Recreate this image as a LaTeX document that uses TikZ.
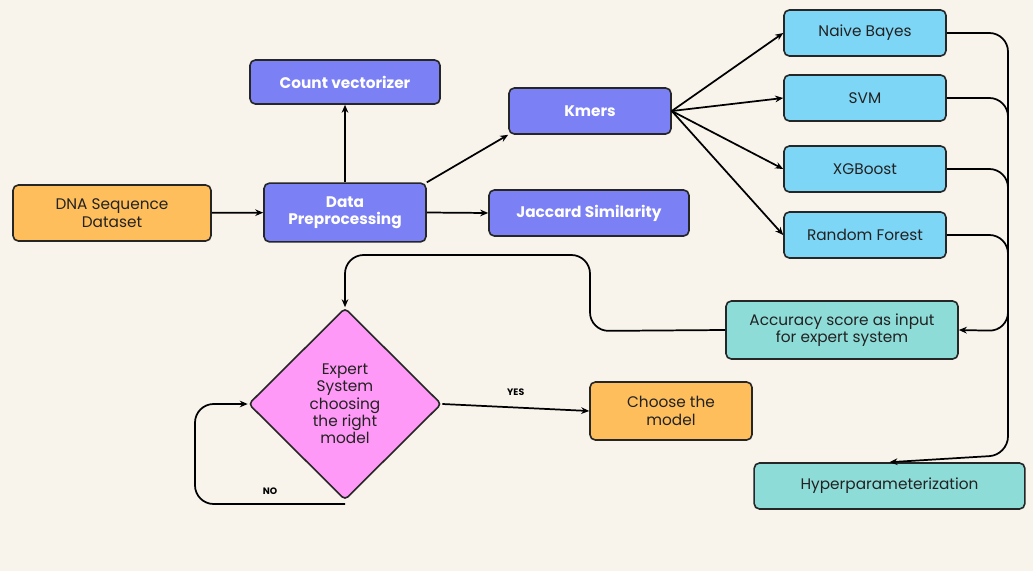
\documentclass[tikz,border=0pt]{standalone}
\usepackage{fontspec}
\setmainfont{Poppins}
\usetikzlibrary{shapes.geometric,arrows.meta}
\definecolor{bg}{HTML}{F8F4EC}
\definecolor{org}{HTML}{FFBE5C}
\definecolor{pur}{HTML}{7B80F4}
\definecolor{lb}{HTML}{7ED6F6}
\definecolor{teal}{HTML}{8EDCD8}
\definecolor{pink}{HTML}{FF99F7}
\definecolor{tx}{HTML}{222222}
\begin{document}
\begin{tikzpicture}[x=0.75pt,y=-0.75pt,
  box/.style={draw=black!85,line width=1.2pt,rounded corners=4pt,inner sep=0pt,align=center,font=\fontsize{11.5}{13}\selectfont,text=tx},
  pb/.style={box,fill=pur,text=white,font=\fontsize{11.5}{13}\selectfont\bfseries},
  ar/.style={-{Stealth[length=6pt,width=5pt]},line width=1.3pt},
  ln/.style={line width=1.3pt,rounded corners=14pt}]
\fill[bg] (0,0) rectangle (1033,571);
\useasboundingbox (0,0) rectangle (1033,571);
\newcommand{\bx}[6]{\node[#1,minimum width=#4*0.75pt,minimum height=#5*0.75pt] (#6) at (#2,#3) {};}
\node[box,fill=org,minimum width=148.5pt,minimum height=42pt] (dna) at (112,213) {DNA Sequence\\Dataset};
\node[pb,minimum width=121.5pt,minimum height=44pt] (dp) at (345,212.5) {Data\\Preprocessing};
\node[pb,minimum width=142.5pt,minimum height=33pt] (cv) at (345,82) {Count vectorizer};
\node[pb,minimum width=121.5pt,minimum height=34.5pt] (km) at (590,111) {Kmers};
\node[pb,minimum width=150pt,minimum height=34.5pt] (jac) at (589,213) {Jaccard Similarity};
\node[box,fill=lb,minimum width=121.5pt,minimum height=34.5pt] (nb) at (865,33) {Naive Bayes};
\node[box,fill=lb,minimum width=121.5pt,minimum height=34.5pt] (svm) at (865,98) {SVM};
\node[box,fill=lb,minimum width=121.5pt,minimum height=34.5pt] (xgb) at (865,169) {XGBoost};
\node[box,fill=lb,minimum width=121.5pt,minimum height=34.5pt] (rf) at (865,235) {Random Forest};
\node[box,fill=teal,minimum width=174pt,minimum height=43.5pt] (acc) at (842,330) {Accuracy score as input\\for expert system};
\node[box,fill=teal,minimum width=203pt,minimum height=34.5pt] (hyp) at (889.5,486) {Hyperparameterization};
\node[box,fill=org,minimum width=121.5pt,minimum height=43.5pt] (ch) at (671,411) {Choose the\\model};
\node[diamond,draw=black!85,line width=1.2pt,fill=pink,minimum width=144.75pt,minimum height=144pt,inner sep=0pt,align=center,font=\fontsize{11.5}{13}\selectfont,text=tx,rounded corners=3pt] (dia) at (345,404) {Expert\\System\\choosing\\the right\\model};
\coordinate (trunk) at (1008,455);
\coordinate (nostart) at (345,504);
\draw[ar] (dna) -- (dp);
\draw[ar] (dp.north) -- (cv.south);
\draw[ar] (dp.north east) -- (km.south west);
\draw[ar] (dp.east) -- (jac.west);
\draw[ar] (km.east) -- (nb.west);
\draw[ar] (km.east) -- (svm.west);
\draw[ar] (km.east) -- (xgb.west);
\draw[ar] (km.east) -- (rf.west);
\draw[ar,ln] (nb.east) -- (1008,33) -- (trunk) -- (hyp.north);
\draw[ln] (svm.east) -- (1008,98) -- (1008,200);
\draw[ln] (xgb.east) -- (1008,169) -- (1008,260);
\draw[ln] (rf.east) -- (1008,235) -- (1008,300);
\draw[ar,ln] (1008,290) -- (1008,331) -- (acc.east);
\draw[ar,ln] (acc.west) -- (590,331) -- (590,255) -- (345,255) -- (dia.north);
\draw[ar,ln] (nostart) -- (195,504) -- (195,404) -- (dia.west);
\draw[ar] (dia.east) -- node[above=5pt,font=\fontsize{7}{8}\selectfont\bfseries]{YES} (ch.west);
\node[font=\fontsize{7}{8}\selectfont\bfseries] (no) at (270,491) {NO};
\end{tikzpicture}
\end{document}
